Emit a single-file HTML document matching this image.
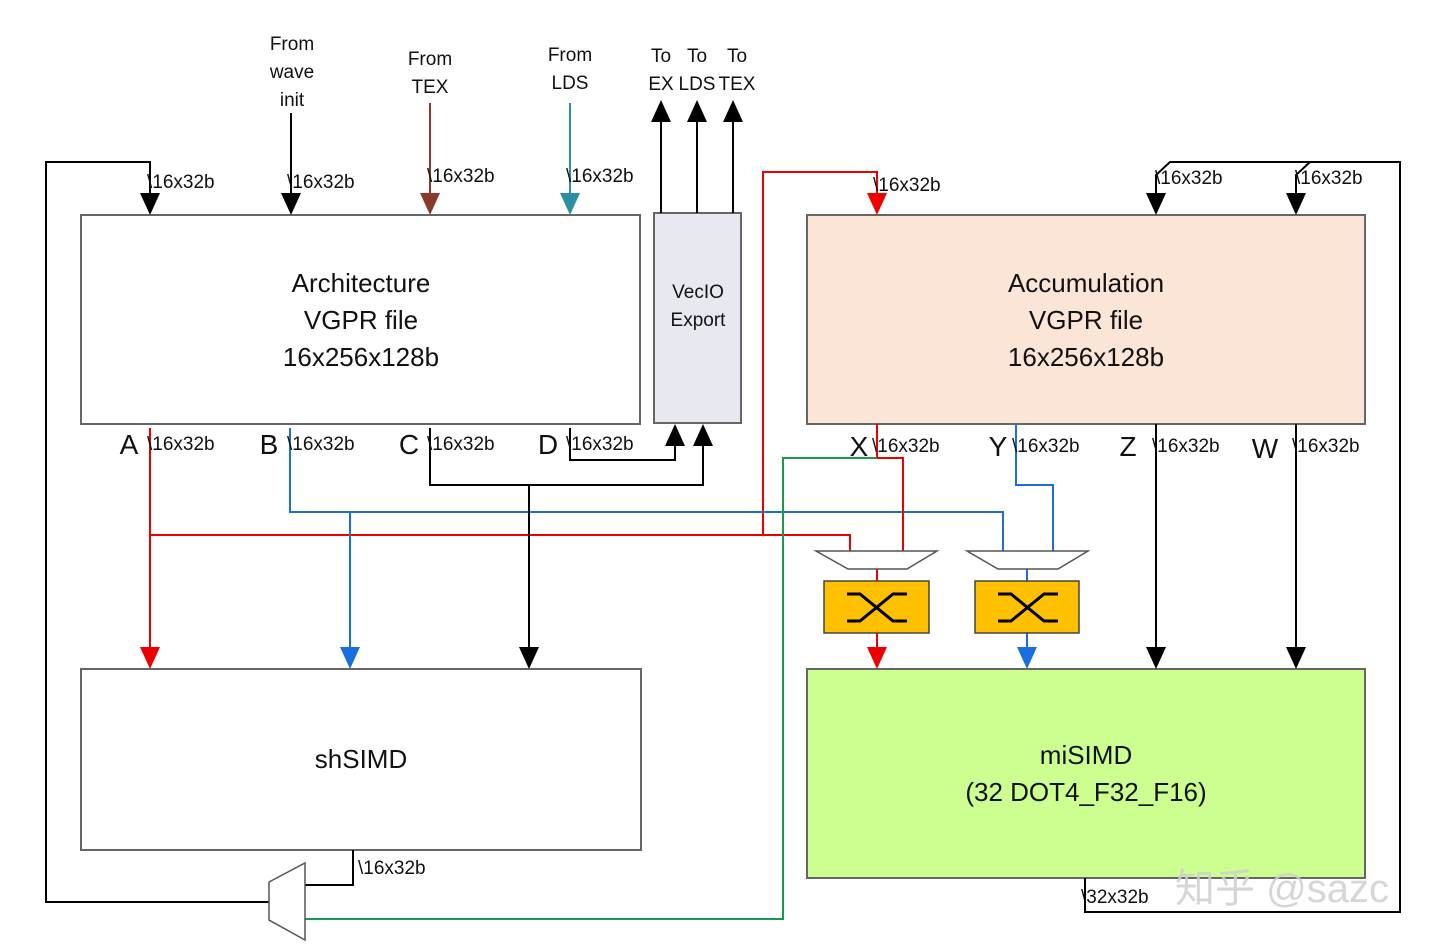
<!DOCTYPE html>
<html><head><meta charset="utf-8"><style>
html,body{margin:0;padding:0;background:#fff;}
svg{display:block;font-family:"Liberation Sans","Noto Sans CJK SC",sans-serif;}
.l{font-size:19px;fill:#111;}
.t{font-size:26px;fill:#111;text-anchor:middle;}
.h{font-size:19px;fill:#111;text-anchor:middle;}
.L{font-size:28px;fill:#111;text-anchor:middle;}
</style></head><body>
<svg width="1440" height="947" viewBox="0 0 1440 947" xmlns="http://www.w3.org/2000/svg">
<!-- boxes -->
<rect x="81" y="215" width="559" height="209" fill="#fff" stroke="#666" stroke-width="2"/>
<rect x="654" y="213" width="87" height="210" fill="#e8e8f0" stroke="#666" stroke-width="2"/>
<rect x="807" y="215" width="558" height="209" fill="#fbe5d6" stroke="#666" stroke-width="2"/>
<rect x="81" y="669" width="560" height="181" fill="#fff" stroke="#666" stroke-width="2"/>
<rect x="807" y="669" width="558" height="209" fill="#ccff90" stroke="#666" stroke-width="2"/>

<text class="t" x="361" y="292">Architecture</text>
<text class="t" x="361" y="329">VGPR file</text>
<text class="t" x="361" y="366">16x256x128b</text>
<text class="h" x="698" y="298">VecIO</text>
<text class="h" x="698" y="326">Export</text>
<text class="t" x="1086" y="292">Accumulation</text>
<text class="t" x="1086" y="329">VGPR file</text>
<text class="t" x="1086" y="366">16x256x128b</text>
<text class="t" x="361" y="768">shSIMD</text>
<text class="t" x="1086" y="764">miSIMD</text>
<text class="t" x="1086" y="801">(32 DOT4_F32_F16)</text>

<!-- top labels -->
<text class="h" x="292" y="50">From</text><text class="h" x="292" y="78">wave</text><text class="h" x="292" y="106">init</text>
<text class="h" x="430" y="65">From</text><text class="h" x="430" y="93">TEX</text>
<text class="h" x="570" y="61">From</text><text class="h" x="570" y="89">LDS</text>
<text class="h" x="661" y="62">To</text><text class="h" x="661" y="90">EX</text>
<text class="h" x="697" y="62">To</text><text class="h" x="697" y="90">LDS</text>
<text class="h" x="737" y="62">To</text><text class="h" x="737" y="90">TEX</text>

<g fill="none" stroke-width="2">
<path d="M150 198 V162 H46 V902 H269" stroke="#000"/>
<path d="M291 198 V113" stroke="#000"/>
<path d="M430 198 V103" stroke="#8b3a2a"/>
<path d="M570 198 V103" stroke="#2a8fa3"/>
<path d="M661 213 V118 M697 213 V118 M733 213 V118" stroke="#000"/>
<path d="M150 650 V428 M150 535 H850 V551" stroke="#e00"/>
<path d="M763 535 V172 H877 V198" stroke="#e00"/>
<path d="M290 428 V512 H1003 V551 M350 512 V650" stroke="#1a6fe0"/>
<path d="M430 428 V485 H703 V444" stroke="#000"/>
<path d="M529 485 V650" stroke="#000"/>
<path d="M570 428 V460 H675 V444" stroke="#000"/>
<path d="M877 424 V458 H903 V551 M877 569 V581 M877 633 V650" stroke="#e00"/>
<path d="M1016 424 V485 H1053 V551 M1027 569 V581 M1027 633 V650" stroke="#1a6fe0"/>
<path d="M1156 424 V650 M1296 424 V650" stroke="#000"/>
<path d="M301 919 H783 V458 H877" stroke="#1a9a50"/>
<path d="M1085 878 V912 H1400 V162 H1170 L1156 175 V198 M1310 162 L1296 175 V198" stroke="#000"/>
<path d="M353 850 V885 H301" stroke="#000"/>
</g>
<polygon points="816,551 937,551 907,569 848,569" fill="#fff" stroke="#555" stroke-width="1.5"/>
<polygon points="967,551 1088,551 1058,569 998,569" fill="#fff" stroke="#555" stroke-width="1.5"/>
<polygon points="269,882 305,863 305,940 269,920" fill="#fff" stroke="#555" stroke-width="1.5"/>
<g stroke="#000" stroke-width="3" fill="none">
<rect x="824" y="581" width="105" height="52" fill="#ffc000" stroke="#444" stroke-width="1.5"/>
<rect x="975" y="581" width="104" height="52" fill="#ffc000" stroke="#444" stroke-width="1.5"/>
<path d="M847 594 H860 L893 621 H907 M847 621 H860 L893 594 H907"/>
<path d="M998 594 H1011 L1044 621 H1058 M998 621 H1011 L1044 594 H1058"/>
</g>
<g>
<polygon points="140,193 160,193 150,215" fill="#000"/>
<polygon points="281,193 301,193 291,215" fill="#000"/>
<polygon points="420,193 440,193 430,215" fill="#8b3a2a"/>
<polygon points="560,193 580,193 570,215" fill="#2a8fa3"/>
<polygon points="651,122 671,122 661,100" fill="#000"/>
<polygon points="687,122 707,122 697,100" fill="#000"/>
<polygon points="723,122 743,122 733,100" fill="#000"/>
<polygon points="867,193 887,193 877,215" fill="#e00"/>
<polygon points="1146,193 1166,193 1156,215" fill="#000"/>
<polygon points="1286,193 1306,193 1296,215" fill="#000"/>
<polygon points="665,446 685,446 675,424" fill="#000"/>
<polygon points="693,446 713,446 703,424" fill="#000"/>
<polygon points="140,647 160,647 150,669" fill="#e00"/>
<polygon points="340,647 360,647 350,669" fill="#1a6fe0"/>
<polygon points="519,647 539,647 529,669" fill="#000"/>
<polygon points="867,647 887,647 877,669" fill="#e00"/>
<polygon points="1017,647 1037,647 1027,669" fill="#1a6fe0"/>
<polygon points="1146,647 1166,647 1156,669" fill="#000"/>
<polygon points="1286,647 1306,647 1296,669" fill="#000"/>
</g>
<g class="l">
<text x="147" y="188">\16x32b</text>
<text x="287" y="188">\16x32b</text>
<text x="427" y="182">\16x32b</text>
<text x="566" y="182">\16x32b</text>
<text x="873" y="191">\16x32b</text>
<text x="1155" y="184">\16x32b</text>
<text x="1295" y="184">\16x32b</text>
<text x="147" y="450">\16x32b</text>
<text x="287" y="450">\16x32b</text>
<text x="427" y="450">\16x32b</text>
<text x="566" y="450">\16x32b</text>
<text x="872" y="452">\16x32b</text>
<text x="1012" y="452">\16x32b</text>
<text x="1152" y="452">\16x32b</text>
<text x="1292" y="452">\16x32b</text>
<text x="358" y="874">\16x32b</text>
<text x="1081" y="903">\32x32b</text>
</g>
<text class="L" x="129" y="454">A</text>
<text class="L" x="269" y="454">B</text>
<text class="L" x="409" y="454">C</text>
<text class="L" x="548" y="454">D</text>
<text class="L" x="859" y="456">X</text>
<text class="L" x="998" y="456">Y</text>
<text class="L" x="1128" y="456">Z</text>
<text class="L" x="1265" y="458">W</text>
<text x="1175" y="902" font-size="40" fill="#d0d0d0" opacity="0.85">知乎 @sazc</text>
</svg>
</body></html>
